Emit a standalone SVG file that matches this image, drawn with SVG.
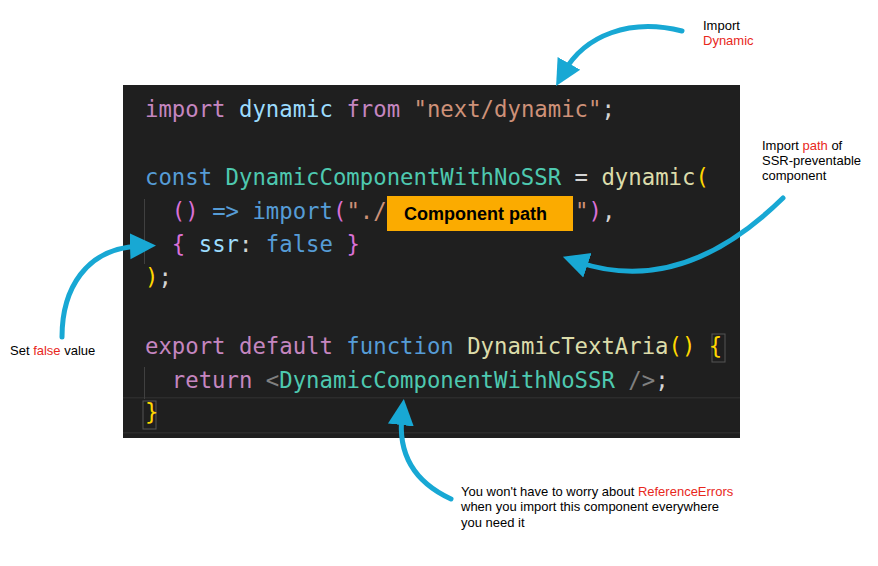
<svg xmlns="http://www.w3.org/2000/svg" width="878" height="566" viewBox="0 0 878 566">
<style>
.c{font-family:"DejaVu Sans Mono","Liberation Mono",monospace;font-size:22.3px}
.n{font-family:"Liberation Sans",Arial,sans-serif;font-size:13px;fill:#000}
.r{fill:#e8281c}
.kw{fill:#c586c0}.bl{fill:#569cd6}.lb{fill:#9cdcfe}.st{fill:#ce9178}.tl{fill:#4ec9b0}.fn{fill:#dcdcaa}.yb{fill:#ffd700}.mg{fill:#da70d6}.w{fill:#d4d4d4}.g{fill:#808080}
.arr{fill:none;stroke:#18a8d4;stroke-width:5;stroke-linecap:round}
</style>
<defs>
<marker id="ah" markerUnits="userSpaceOnUse" markerWidth="30" markerHeight="30" refX="10" refY="15" orient="auto">
<path d="M0,2 L26,15 L0,28 Z" fill="#18a8d4"/>
</marker>
</defs>
<rect width="878" height="566" fill="#fff"/>
<g id="code">
<rect x="123" y="85" width="617" height="353" fill="#1f1f1f"/>
<rect x="123" y="397" width="617" height="1.5" fill="#2c2c2c"/>
<rect x="123" y="432" width="617" height="1.5" fill="#2c2c2c"/>
<rect x="144" y="199" width="1" height="65" fill="#404040"/>
<rect x="144" y="367" width="1" height="32" fill="#404040"/>
<rect x="712" y="334" width="13" height="28" fill="none" stroke="#555" stroke-width="1"/>
<rect x="143" y="401" width="13" height="28" fill="none" stroke="#555" stroke-width="1"/>
<text class="c" x="145" y="117"><tspan class="kw">import</tspan><tspan class="lb"> dynamic</tspan><tspan class="kw"> from</tspan><tspan class="st"> "next/dynamic"</tspan><tspan class="w">;</tspan></text>
<text class="c" x="145" y="185"><tspan class="bl">const</tspan><tspan class="tl"> DynamicComponentWithNoSSR</tspan><tspan class="w"> = </tspan><tspan class="fn">dynamic</tspan><tspan class="yb">(</tspan></text>
<text class="c" x="145" y="219" xml:space="preserve"><tspan class="mg">  ()</tspan><tspan class="bl"> =&gt; import</tspan><tspan class="mg">(</tspan><tspan class="st">"./</tspan></text>
<text class="c" x="575" y="219"><tspan class="st">"</tspan><tspan class="mg">)</tspan><tspan class="w">,</tspan></text>
<text class="c" x="145" y="252" xml:space="preserve"><tspan class="mg">  {</tspan><tspan class="lb"> ssr</tspan><tspan class="w">:</tspan><tspan class="bl"> false</tspan><tspan class="mg"> }</tspan></text>
<text class="c" x="145" y="285"><tspan class="yb">)</tspan><tspan class="w">;</tspan></text>
<text class="c" x="145" y="354"><tspan class="kw">export default</tspan><tspan class="bl"> function</tspan><tspan class="fn"> DynamicTextAria</tspan><tspan class="yb">() {</tspan></text>
<text class="c" x="145" y="388" xml:space="preserve"><tspan class="kw">  return</tspan><tspan class="g"> &lt;</tspan><tspan class="tl">DynamicComponentWithNoSSR</tspan><tspan class="g"> /&gt;</tspan><tspan class="w">;</tspan></text>
<text class="c" x="145" y="420"><tspan class="yb">}</tspan></text>
</g>
<g id="component-path">
<rect x="387" y="196" width="186" height="35" fill="#fbab00"/>
<text x="404" y="220" font-family="Liberation Sans,Arial,sans-serif" font-size="18" font-weight="bold" fill="#000">Component path</text>
</g>
<g id="label-dynamic"><text class="n" x="703" y="30">Import</text><text class="n r" x="703" y="45">Dynamic</text></g>
<g id="label-path"><text class="n" x="762" y="150">Import <tspan class="r">path</tspan> of</text><text class="n" x="762" y="165">SSR-preventable</text><text class="n" x="762" y="180">component</text></g>
<g id="label-false"><text class="n" x="10" y="355">Set <tspan class="r">false</tspan> value</text></g>
<g id="label-errors"><text class="n" x="461" y="496">You won't have to worry about <tspan class="r">ReferenceErrors</tspan></text><text class="n" x="461" y="511">when you import this component everywhere</text><text class="n" x="461" y="527">you need it</text></g>
<g id="connectors">
<path class="arr" marker-end="url(#ah)" d="M682,31 C630,18 585,35 564,72"/>
<path class="arr" marker-end="url(#ah)" d="M783,198 C730,250 660,290 578,262"/>
<path class="arr" marker-end="url(#ah)" d="M62,337 C62,290 85,248 140,246"/>
<path class="arr" marker-end="url(#ah)" d="M451,499 C410,480 398,450 402,415"/>
</g>
</svg>
